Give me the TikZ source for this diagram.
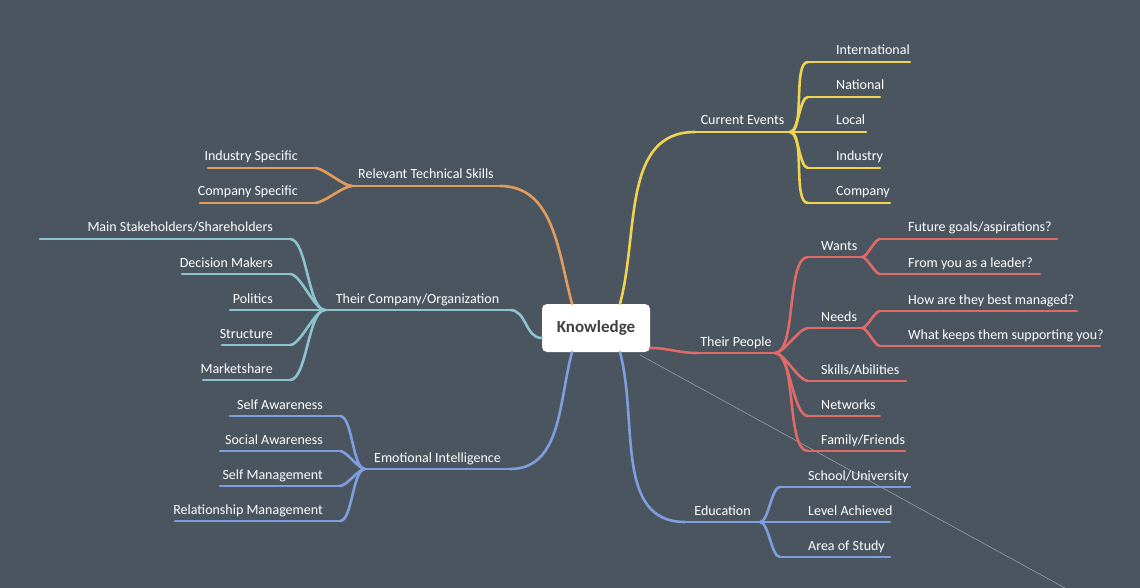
\documentclass[tikz,border=0pt]{standalone}
\usepackage{fontspec}
\setmainfont{Carlito}
\definecolor{bg}{HTML}{4B5560}
\definecolor{cy}{HTML}{EFD452}
\definecolor{cr}{HTML}{E06A68}
\definecolor{cb}{HTML}{7E9FDD}
\definecolor{ct}{HTML}{8CC3CE}
\definecolor{co}{HTML}{E29D5C}
\tikzset{br/.style={line width=2.6pt,line cap=round},
 fan/.style={looseness=0.55},
 lbl/.style={text=white,font=\fontsize{14}{16}\selectfont,inner sep=0pt}}
\newcommand\rleaf[7][28]{\coordinate (#3s) at (#4,#6); \coordinate (#3e) at (#5,#6);
 \draw[#2,br] (#3s) -- (#3e);
 \node[lbl,anchor=base west] (#3t) at ([xshift=#1pt,yshift=7pt]#3s) {#7};}
\newcommand\lleaf[7][17]{\coordinate (#3s) at (#4,#6); \coordinate (#3e) at (#5,#6);
 \draw[#2,br] (#3s) -- (#3e);
 \node[lbl,anchor=base east] (#3t) at ([xshift=-#1pt,yshift=7pt]#3e) {#7};}
\newcommand\cleaf[6]{\coordinate (#2s) at (#3,#5); \coordinate (#2e) at (#4,#5);
 \draw[#1,br] (#2s) -- (#2e);
 \node[lbl,anchor=base] (#2t) at ([yshift=7pt]$(#2s)!0.5!(#2e)$) {#6};}
\usetikzlibrary{calc}
\begin{document}
\begin{tikzpicture}[x=1pt,y=-1pt]
\fill[bg] (0,0) rectangle (1140,588);
\useasboundingbox (0,0) rectangle (1140,588);
\coordinate (g1) at (640,355); \coordinate (g2) at (1065,588);
\draw[gray!70,line width=0.5pt] (g1) -- (g2);
% Current events
\cleaf{cy}{ce}{695}{790}{132}{Current Events}
\rleaf{cy}{y1}{808}{910}{62}{International}
\rleaf{cy}{y2}{808}{880}{97}{National}
\rleaf{cy}{y3}{808}{866}{132}{Local}
\rleaf{cy}{y4}{808}{880}{168}{Industry}
\rleaf{cy}{y5}{808}{890}{203}{Company}
\foreach \c in {y1,y2,y3,y4,y5}{\draw[cy,br] (cee) to[out=0,in=180,fan] (\c s);}
% Their people
\cleaf{cr}{tp}{697}{775}{353}{Their People}
\rleaf[13]{cr}{wa}{808}{862}{257}{Wants}
\rleaf{cr}{w1}{880}{1057}{239}{Future goals/aspirations?}
\rleaf{cr}{w2}{880}{1040}{274}{From you as a leader?}
\rleaf[13]{cr}{ne}{808}{862}{328}{Needs}
\rleaf{cr}{n1}{880}{1077}{311}{How are they best managed?}
\rleaf{cr}{n2}{880}{1100}{346}{What keeps them supporting you?}
\rleaf[13]{cr}{sk}{808}{906}{381}{Skills/Abilities}
\rleaf[13]{cr}{nw}{808}{880}{416}{Networks}
\rleaf[13]{cr}{ff}{808}{905}{451}{Family/Friends}
\foreach \c in {wa,ne,sk,nw,ff}{\draw[cr,br] (tpe) to[out=0,in=180,fan] (\c s);}
\foreach \c in {w1,w2}{\draw[cr,br] (wae) to[out=0,in=180,fan] (\c s);}
\foreach \c in {n1,n2}{\draw[cr,br] (nee) to[out=0,in=180,fan] (\c s);}
% Education
\cleaf{cb}{ed}{685}{760}{522}{Education}
\rleaf{cb}{e1}{780}{910}{487}{School/University}
\rleaf{cb}{e2}{780}{890}{522}{Level Achieved}
\rleaf{cb}{e3}{780}{890}{557}{Area of Study}
\foreach \c in {e1,e2,e3}{\draw[cb,br] (ede) to[out=0,in=180,fan] (\c s);}
% Emotional intelligence
\cleaf{cb}{ei}{365}{510}{469}{Emotional Intelligence}
\lleaf{cb}{l1}{230}{340}{416}{Self Awareness}
\lleaf{cb}{l2}{220}{340}{451}{Social Awareness}
\lleaf{cb}{l3}{220}{340}{486}{Self Management}
\lleaf{cb}{l4}{175}{340}{521}{Relationship Management}
\foreach \c in {l1,l2,l3,l4}{\draw[cb,br] (eis) to[out=180,in=0,fan] (\c e);}
% Company
\cleaf{ct}{co}{325}{510}{310}{Their Company/Organization}
\lleaf{ct}{t1}{40}{290}{239}{Main Stakeholders/Shareholders}
\lleaf{ct}{t2}{182}{290}{274}{Decision Makers}
\lleaf{ct}{t3}{230}{290}{310}{Politics}
\lleaf{ct}{t4}{222}{290}{345}{Structure}
\lleaf{ct}{t5}{203}{290}{380}{Marketshare}
\foreach \c in {t1,t2,t3,t4,t5}{\draw[ct,br] (cos) to[out=180,in=0,fan] (\c e);}
% Technical
\cleaf{co}{rt}{352}{500}{186}{Relevant Technical Skills}
\lleaf{co}{o1}{208}{315}{168}{Industry Specific}
\lleaf{co}{o2}{200}{315}{203}{Company Specific}
\foreach \c in {o1,o2}{\draw[co,br] (rts) to[out=180,in=0,fan] (\c e);}
% center
\node[fill=white,rounded corners=5pt,minimum width=108pt,minimum height=48pt,
 font=\fontsize{17}{20}\selectfont\bfseries,text=black!75] (K) at (596,328) {Knowledge};
\draw[cy,br] ([xshift=24pt]K.north) to[out=75,in=180] (ces);
\draw[cr,br] ([yshift=-20pt]K.east) to[out=0,in=180] (tps);
\draw[cb,br] ([xshift=24pt]K.south) to[out=-75,in=180] (eds);
\draw[cb,br] ([xshift=-24pt]K.south) to[out=-105,in=0] (eie);
\draw[ct,br] ([yshift=-10pt]K.west) to[out=180,in=0] (coe);
\draw[co,br] ([xshift=-24pt]K.north) to[out=105,in=0] (rte);
\end{tikzpicture}
\end{document}
